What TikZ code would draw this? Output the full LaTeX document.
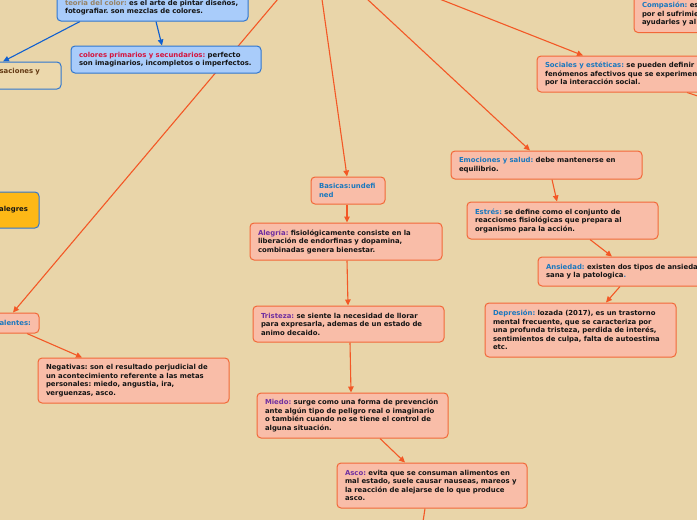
\documentclass[tikz,border=0pt]{standalone}
\usepackage{fontspec}
\setmainfont{DejaVu Sans}
\usetikzlibrary{arrows.meta}
\definecolor{bg}{RGB}{233,213,169}
\definecolor{pinkf}{RGB}{249,189,168}
\definecolor{bord}{RGB}{242,104,56}
\definecolor{conc}{RGB}{243,88,38}
\definecolor{bluef}{RGB}{169,204,250}
\definecolor{bluebd}{RGB}{47,118,208}
\definecolor{bluear}{RGB}{16,96,208}
\definecolor{yellowf}{RGB}{253,184,22}
\definecolor{sensf}{RGB}{236,216,172}
\definecolor{lblue}{RGB}{26,120,190}
\definecolor{lpurple}{RGB}{112,48,160}
\definecolor{lred}{RGB}{212,20,62}
\definecolor{ltan}{RGB}{150,130,100}
\definecolor{lbrown}{RGB}{100,58,20}
\definecolor{txt}{RGB}{20,20,20}
\pgfdeclarelayer{backlayer}
\pgfdeclarelayer{connlayer}
\pgfsetlayers{backlayer,connlayer,main}
\frenchspacing
\newcommand\boxfont{\fontsize{6.9}{8.5}\selectfont\bfseries\color{txt}\frenchspacing}
\newcommand\lb[1]{\textcolor{lblue}{#1}}
\newcommand\lp[1]{\textcolor{lpurple}{#1}}
\newcommand\gapr[1]{\rule{#1}{0pt}}
\tikzset{
  pbox/.style={draw=bord, fill=pinkf, rounded corners=4pt, line width=1pt,
    inner xsep=8pt, inner ysep=0pt, align=left, font=\boxfont},
  bbox/.style={pbox, draw=bluebd, fill=bluef},
  conn/.style={draw=conc, line width=1.1pt, -{Triangle[length=6pt,width=5.5pt]}},
  bconn/.style={draw=bluear, line width=1.1pt, -{Triangle[length=6pt,width=5.5pt]}},
  plainconn/.style={draw=conc, line width=1.1pt}
}
\begin{document}
\begin{tikzpicture}[x=1pt,y=-1pt]
\useasboundingbox (0,0) rectangle (697,520);
\begin{pgfonlayer}{backlayer}
\fill[bg] (0,0) rectangle (697,520);
\end{pgfonlayer}
\clip (0,0) rectangle (697,520);

% free ends
\coordinate (t1) at (289.8,-15);
\coordinate (t2) at (320,-15);
\coordinate (t3) at (352,-15);
\coordinate (t4) at (404,-15);
\coordinate (r1) at (740,110);
\coordinate (b1) at (421,535);

\path
  node[bbox, minimum width=191pt, minimum height=27pt, text width=175pt] (teoria) at (152.5,7.5)
    {\textcolor{ltan}{teoria del color:} es el arte de pintar diseños,\\fotografiar. son mezclas de colores.}
  node[bbox, minimum width=190pt, minimum height=27pt, text width=174pt] (colores) at (166,59.5)
    {\textcolor{lred}{colores primarios y secundarios:} perfecto\\son imaginarios, incompletos o imperfectos.}
  node[pbox, draw=bluebd, fill=sensf, minimum width=121pt, minimum height=27pt, text width=105pt, align=right] (sens) at (0.5,75.5)
    {\textcolor{lbrown}{saciones y}\gapr{13pt}\\\mbox{}}
  node[pbox, draw=bluebd, fill=yellowf, minimum width=99pt, minimum height=36pt, text width=83pt, align=right] (alegres) at (-10.5,210)
    {alegres\gapr{3pt}}
  node[pbox, minimum width=79pt, minimum height=20pt, text width=63pt, align=right] (alentes) at (-0.5,323)
    {\lb{alentes:}}
  node[pbox, minimum width=191pt, minimum height=45pt, text width=175pt] (negativas) at (133.5,380.5)
    {Negativas: son el resultado perjudicial de\\un acontecimiento referente a las metas\\personales: miedo, angustia, ira,\\verguenzas, asco.}
  node[pbox, minimum width=74pt, minimum height=27pt, text width=58pt] (basicas) at (348,190.5)
    {\lb{Basicas:undefi}\\\lb{ned}}
  node[pbox, minimum width=192pt, minimum height=37pt, text width=176pt] (alegria) at (346,241.5)
    {\lp{Alegría:} fisiológicamente consiste en la\\liberación de endorfinas y dopamina,\\combinadas genera bienestar.}
  node[pbox, minimum width=191pt, minimum height=36pt, text width=175pt] (tristeza) at (348.5,324)
    {\lp{Tristeza:} se siente la necesidad de llorar\\para expresarla, ademas de un estado de\\animo decaido.}
  node[pbox, minimum width=191pt, minimum height=45pt, text width=175pt] (miedo) at (352.5,415.5)
    {\lp{Miedo:} surge como una forma de prevención\\ante algún tipo de peligro real o imaginario\\o también cuando no se tiene el control de\\alguna situación.}
  node[pbox, minimum width=190pt, minimum height=45pt, text width=174pt] (asco) at (432,485.5)
    {\lp{Asco:} evita que se consuman alimentos en\\mal estado, suele causar nauseas, mareos y\\la reacción de alejarse de lo que produce\\asco.}
  node[pbox, minimum width=191pt, minimum height=28pt, text width=175pt] (emoc) at (546.5,165)
    {\lb{Emociones y salud:} debe mantenerse en\\equilibrio.}
  node[pbox, minimum width=191pt, minimum height=37pt, text width=175pt] (estres) at (562.5,220.5)
    {\lb{Estrés:} se define como el conjunto de\\reacciones fisiológicas que prepara al\\organismo para la acción.}
  node[pbox, minimum width=191pt, minimum height=29pt, text width=175pt] (ansiedad) at (633.5,271.5)
    {\lb{Ansiedad:} existen dos tipos de ansiedad\\sana y la patologica\lb{.}}
  node[pbox, minimum width=191pt, minimum height=54pt, text width=175pt] (depresion) at (580.5,330)
    {\lb{Depresión:} lozada (2017), es un trastorno\\mental frecuente, que se caracteriza por\\una profunda tristeza, perdida de interés,\\sentimientos de culpa, falta de autoestima\\etc.}
  node[pbox, minimum width=191pt, minimum height=36pt, text width=175pt] (sociales) at (632.5,74)
    {\lb{Sociales y estéticas:} se pueden definir\\fenómenos afectivos que se experimen\\por la interacción social.}
  node[pbox, minimum width=191pt, minimum height=37pt, text width=175pt] (compasion) at (729.5,14)
    {\lb{Compasión:} es\\por el sufrimie\\ayudarles y al};

\begin{pgfonlayer}{connlayer}
  \draw[bconn] ([xshift=-72.5pt]teoria.south) -- ([xshift=2.5pt]sens.north);
  \draw[bconn] ([xshift=3.5pt]teoria.south) -- ([xshift=-4pt]colores.north);
  \draw[conn] (t1) -- ([xshift=13.5pt]alentes.north);
  \draw[conn] (t2) -- ([xshift=-1pt]basicas.north);
  \draw[conn] (t3) -- ([xshift=-16.5pt]emoc.north);
  \draw[conn] (t4) -- ([xshift=-49.5pt]sociales.north);
  \draw[plainconn] ([xshift=54.5pt]sociales.south) -- (r1);
  \draw[conn] ([xshift=-1pt]basicas.south) -- ([xshift=1pt]alegria.north);
  \draw[conn] ([xshift=1pt]alegria.south) -- ([xshift=-0.5pt]tristeza.north);
  \draw[conn] ([xshift=1.5pt]tristeza.south) -- ([xshift=-1.5pt]miedo.north);
  \draw[conn] ([xshift=27.5pt]miedo.south) -- ([xshift=-27pt]asco.north);
  \draw[plainconn] ([xshift=-7pt]asco.south) -- (b1);
  \draw[conn] ([xshift=5.5pt]emoc.south) -- ([xshift=-5.5pt]estres.north);
  \draw[conn] ([xshift=27.5pt]estres.south) -- ([xshift=-21.5pt]ansiedad.north);
  \draw[conn] ([xshift=-13.5pt]ansiedad.south) -- ([xshift=25.5pt]depresion.north);
  \draw[conn] ([xshift=27.5pt]alentes.south) -- ([xshift=-51.5pt]negativas.north);
\end{pgfonlayer}
\end{tikzpicture}
\end{document}
